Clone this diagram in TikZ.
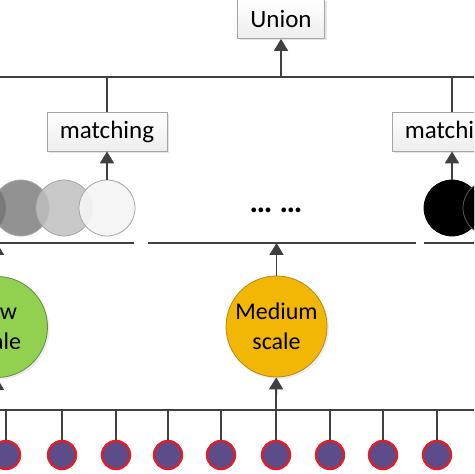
\documentclass[tikz,border=0pt]{standalone}
\usepackage{fontspec}
\setmainfont{Carlito}
\usetikzlibrary{arrows.meta, calc, shadows}
\definecolor{linegray}{RGB}{64, 64, 64}
\definecolor{boxedge}{RGB}{165, 165, 165}
\definecolor{scalegreen}{RGB}{146, 208, 80}
\definecolor{greenedge}{RGB}{95, 140, 55}
\definecolor{scaleamber}{RGB}{242, 183, 5}
\definecolor{amberedge}{RGB}{185, 135, 20}
\definecolor{pointviolet}{RGB}{92, 76, 138}
\definecolor{pointred}{RGB}{222, 30, 40}

\tikzset{
    conn/.style={linegray, line width=0.9pt},
    bus/.style={linegray, line width=1.1pt},
    arr/.style={conn, -{Triangle[width=7pt, length=6pt]}},
    labelbox/.style={draw=boxedge, top color=white, bottom color=gray!14,
        inner sep=0pt, minimum height=19.5pt,
        font=\fontsize{12.5}{14}\selectfont,
        drop shadow={opacity=0.2, shadow xshift=1pt, shadow yshift=-1pt}},
    patch/.style={circle, inner sep=0pt, minimum size=28pt, draw=gray!70, line width=0.4pt},
    scalecircle/.style={circle, inner sep=0pt, minimum size=50.5pt, align=center,
        font=\fontsize{12}{15}\selectfont,
        drop shadow={opacity=0.15, shadow xshift=1pt, shadow yshift=-1pt}},
    point/.style={circle, inner sep=0pt, minimum size=14pt, fill=pointviolet,
        draw=pointred, line width=1.2pt}
}

\begin{document}
\begin{tikzpicture}[x=0.5pt, y=-0.5pt]
    \useasboundingbox (0,0) rectangle (474,474);
    \fill[white] (0,0) rectangle (474,474);
    \clip (0,0) rectangle (474,474);

    % Top: union of the matchings
    \node[labelbox, minimum width=43.5pt] (union) at (281,19) {Union};
    \coordinate (topL) at (0,77);
    \coordinate (topR) at (474,77);
    \draw[bus] (topL) -- (topR);
    \draw[arr] (union |- topL) -- (union);

    \node[labelbox, minimum width=60pt] (match1) at (107,131.5) {matching};
    \node[labelbox, minimum width=60pt] (match2) at (452,131.5) {matching};
    \draw[conn] (match1) -- (match1 |- topL);
    \draw[conn] (match2) -- (match2 |- topL);

    % Patches per scale
    \foreach \x/\name/\col/\op in {-22/g4/black!75/0.9, 21/g3/black!50/0.85,
                                  64/g2/black!25/0.85, 107/g1/black!4/0.9} {
        \node[patch, fill=\col, fill opacity=\op] (\name) at (\x,208) {};
    }
    \node[patch, fill=black, draw=black] (b1) at (452,208) {};
    \node[patch, fill=black, draw=black!65] (b2) at (491,208) {};
    \draw[arr] (g1) -- (match1);
    \draw[arr] (b1) -- (match2);

    \node (dots) at (276,210) {\fontsize{16}{18}\selectfont\textbf{\dots\ \dots}};

    % Scale lines
    \coordinate (midA) at (0,243);
    \coordinate (midB) at (134,243);
    \coordinate (midC) at (148,243);
    \coordinate (midD) at (416,243);
    \coordinate (midE) at (424,243);
    \coordinate (midF) at (474,243);
    \draw[bus] (midA) -- (midB);
    \draw[bus] (midC) -- (midD);
    \draw[bus] (midE) -- (midF);

    % Scales
    \node[scalecircle, fill=scalegreen, draw=greenedge] (low) at (-3,327) {Low\\scale};
    \node[scalecircle, fill=scaleamber, draw=amberedge] (medium) at (276.5,326.5) {Medium\\scale};
    \draw[arr] (low) -- (low |- midA);
    \draw[arr] (medium) -- (medium |- midC);

    % Input points
    \coordinate (botL) at (0,410);
    \coordinate (botR) at (474,410);
    \draw[bus] (botL) -- (botR);
    \foreach \x [count=\i] in {6, 62, 116, 168, 221, 276, 330, 383, 437} {
        \node[point] (pt\i) at (\x,455) {};
        \draw[conn] (pt\i) -- (pt\i |- botL);
    }
    \draw[arr] (pt6 |- botL) -- (medium);
    \draw[arr] (low |- botL) -- (low);
\end{tikzpicture}
\end{document}
